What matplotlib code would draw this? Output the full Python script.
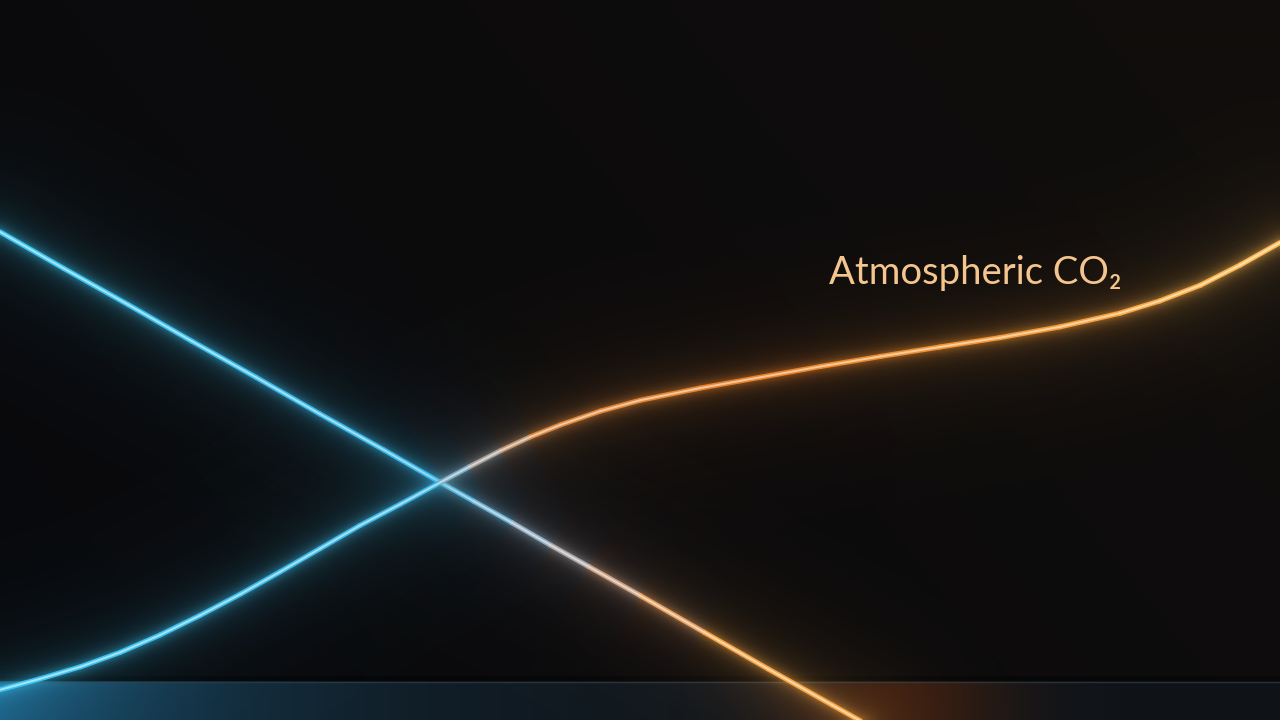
import numpy as np
import matplotlib
matplotlib.use("Agg")
import matplotlib.pyplot as plt
from matplotlib.collections import LineCollection
from matplotlib.colors import LinearSegmentedColormap, to_rgb

# series (x: 0-100 across, y: 0-100 up)
co2_x = [0, 3.1, 6.3, 9.4, 12.5, 15.6, 18.8, 21.9, 25.0, 28.1, 31.3, 34.4, 36.7, 39.1, 41.4,
         43.8, 46.9, 50.0, 54.7, 59.4, 64.1, 68.8, 73.4, 78.1, 82.8, 87.5, 90.6, 93.8, 96.9, 100]
co2_y = [4.2, 5.7, 7.4, 9.4, 11.8, 14.5, 17.5, 20.6, 23.8, 27.0, 30.0, 33.0, 35.2, 37.4, 39.3,
         41.0, 42.9, 44.4, 46.1, 47.6, 49.1, 50.5, 51.8, 53.1, 54.6, 56.5, 58.2, 60.4, 63.2, 66.3]

fall_x = [0, 5, 10, 15, 20, 25, 30, 34.4, 37, 40, 43, 46, 50, 55, 60, 65, 67.5]
fall_y = [67.8, 62.7, 57.7, 52.6, 47.6, 42.5, 37.5, 33.0, 30.4, 27.4, 24.3, 21.3, 17.3, 12.2, 7.1, 2.1, -0.4]

label = "Atmospheric CO₂"

FLOOR = 5.3

fig = plt.figure(figsize=(12.8, 7.2), dpi=100)
ax = fig.add_axes([0, 0, 1, 1])
ax.set_xlim(0, 100)
ax.set_ylim(0, 100)
ax.axis("off")

# background wash
gx = np.linspace(0, 1, 256)
gy = np.linspace(0, 1, 144)
GX, GY = np.meshgrid(gx, gy)
dark = np.array(to_rgb("#08090c"))
warm = np.array(to_rgb("#110e0c"))
t = np.clip(GX * 0.7 + GY * 0.3, 0, 1)[..., None]
bg = dark * (1 - t) + warm * t
ax.imshow(bg, extent=[0, 100, FLOOR, 100], origin="lower", aspect="auto", zorder=0,
          interpolation="bicubic")

# floor strip
fx = np.linspace(0, 100, 400)
fy = np.linspace(0, 1, 20)
FX, FY = np.meshgrid(fx, fy)
base = np.array(to_rgb("#0f1318"))
blue = np.array(to_rgb("#1d6690"))
amber = np.array(to_rgb("#4a200c"))
wb = (np.exp(-FX / 18.0) * 0.85)[..., None]
wa = (np.exp(-((FX - 70) / 9.0) ** 2) * 0.7)[..., None]
floor = base * (1 - wb) + blue * wb
floor = floor * (1 - wa) + amber * wa
ax.imshow(floor, extent=[0, 100, 0, FLOOR], origin="lower", aspect="auto", zorder=1)
ax.axhline(FLOOR, color="#2c3a46", lw=1.0, alpha=0.8, zorder=1.5)
ax.axhspan(FLOOR, FLOOR + 0.8, color="#000000", alpha=0.35, lw=0, zorder=1.4)

# glow grid in pixel units (4px cells)
W, H = 320, 180
px = (np.arange(W) + 0.5) * 4.0
py = (np.arange(H) + 0.5) * 4.0
PX, PY = np.meshgrid(px, py)


def glow_line(xs, ys, cmap, zorder, strength=1.0):
    xs = np.asarray(xs, float)
    ys = np.asarray(ys, float)
    mid = (xs[:-1] + xs[1:]) / 2 / 100
    cols = cmap(mid)

    # soft halo as an image: distance to the polyline, coloured by nearest segment
    sx = xs * 12.8
    sy = ys * 7.2
    dmin = np.full(PX.shape, 1e9)
    rgb = np.zeros(PX.shape + (3,))
    for i in range(len(sx) - 1):
        ax0, ay0, bx, by = sx[i], sy[i], sx[i + 1], sy[i + 1]
        vx, vy = bx - ax0, by - ay0
        u = np.clip(((PX - ax0) * vx + (PY - ay0) * vy) / (vx * vx + vy * vy), 0, 1)
        d = np.hypot(PX - (ax0 + u * vx), PY - (ay0 + u * vy))
        m = d < dmin
        dmin[m] = d[m]
        rgb[m] = cols[i, :3]
    alpha = strength * (0.45 * np.exp(-dmin / 5.0) + 0.17 * np.exp(-dmin / 22.0)
                        + 0.06 * np.exp(-dmin / 70.0))
    img = np.dstack([rgb, np.clip(alpha, 0, 1)])
    ax.imshow(img, extent=[0, 100, 0, 100], origin="lower", aspect="auto",
              interpolation="bilinear", zorder=zorder)

    pts = np.column_stack([xs, ys]).reshape(-1, 1, 2)
    segs = np.concatenate([pts[:-1], pts[1:]], axis=1)
    ax.add_collection(LineCollection(segs, colors=cols, linewidths=3.6,
                                     capstyle="round", zorder=zorder + 0.1))
    light = cols.copy()
    light[:, :3] = light[:, :3] * 0.45 + 0.55
    ax.add_collection(LineCollection(segs, colors=light, linewidths=1.4,
                                     capstyle="round", zorder=zorder + 0.2))


co2_cmap = LinearSegmentedColormap.from_list("co2", [
    (0.0, "#3cc6f2"), (0.33, "#3fb8e6"), (0.37, "#9aa6b0"), (0.43, "#e08a3e"),
    (0.6, "#ea8229"), (0.85, "#f8a23c"), (1.0, "#ffbc55")])
fall_cmap = LinearSegmentedColormap.from_list("fall", [
    (0.0, "#3cc6f2"), (0.34, "#3cb8ea"), (0.42, "#9ab0c4"), (0.5, "#e0a070"),
    (0.58, "#f7a545"), (1.0, "#ffb040")])

glow_line(fall_x, fall_y, fall_cmap, 3)
glow_line(co2_x, co2_y, co2_cmap, 4)

ax.text(64.8, 60.6, label, color="#f4c68e", fontsize=27.5, ha="left", va="baseline",
        family=["Lato", "DejaVu Sans"], zorder=6)

fig.savefig("out.png", dpi=100, facecolor="#0a0c0f")
